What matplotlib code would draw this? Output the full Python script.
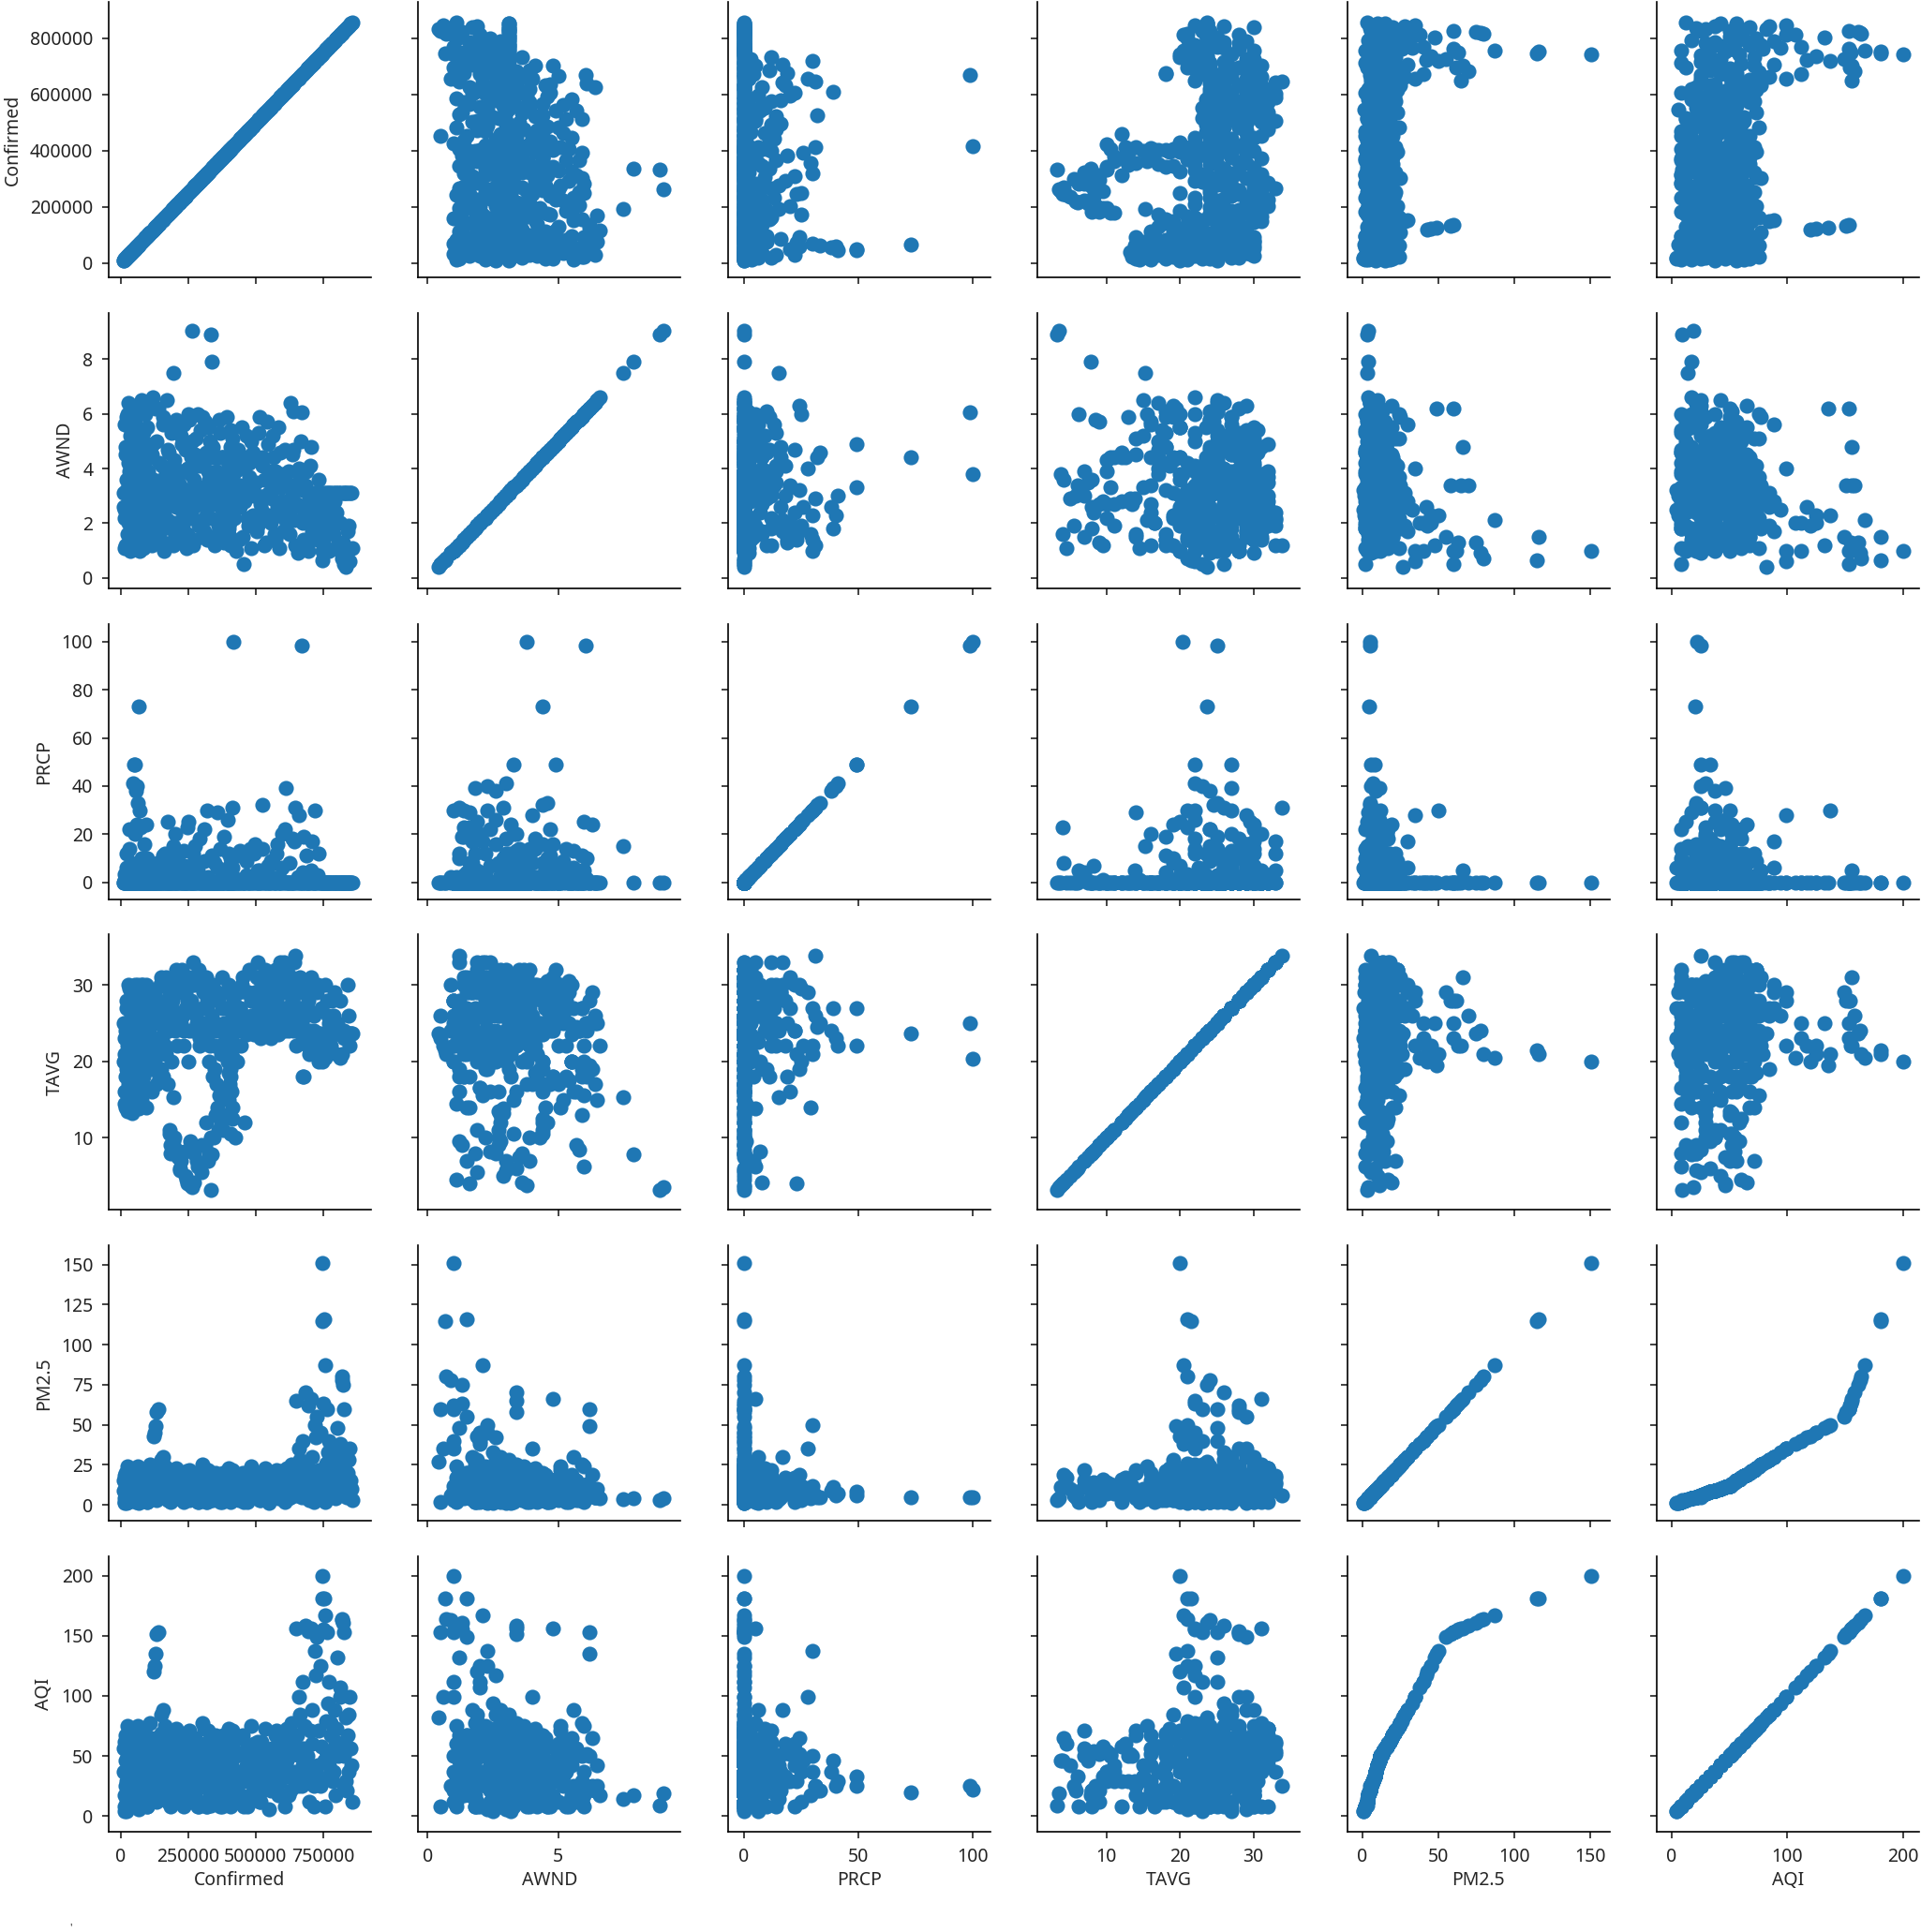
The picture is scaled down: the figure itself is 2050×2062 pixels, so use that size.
import matplotlib
matplotlib.use("Agg")
import matplotlib.pyplot as plt

confirmed = [
10500,12800,14200,16100,18000,19900,21700,23600,25400,27800,
29500,31200,33000,34800,36500,38200,40100,42000,44300,46500,
48000,50500,52000,53800,55500,57200,59000,60500,62500,64500,
67000,68500,70500,72000,74000,76000,78000,80000,82000,84000,
86000,88000,90000,92000,94000,96000,98000,100000,102000,104000,
106000,110000,114000,118000,120000,124000,128000,133000,138000,142000,
151000,154000,157000,160000,163000,166000,169000,172000,175000,178000,
181000,185000,188000,192000,195000,198000,202000,206000,210000,214000,
218000,222000,226000,230000,234000,238000,242000,246000,250000,254000,
258000,263000,265000,268000,272000,276000,280000,285000,290000,295000,
300000,304000,308000,312000,316000,320000,325000,330000,334000,336000,
340000,344000,348000,352000,356000,360000,364000,368000,372000,376000,
380000,384000,388000,392000,396000,400000,404000,408000,412000,418000,
400000,402000,405000,407000,410000,412000,414000,416000,420000,424000,
430000,436000,442000,448000,454000,460000,466000,472000,478000,484000,
490000,496000,502000,508000,514000,520000,526000,532000,538000,544000,
550000,556000,562000,568000,574000,580000,586000,592000,598000,604000,
610000,616000,622000,628000,634000,640000,646000,652000,658000,664000,
670000,672000,678000,684000,690000,696000,702000,708000,714000,720000,
726000,732000,738000,745000,748000,752000,756000,760000,764000,768000,
772000,778000,784000,790000,796000,802000,808000,814000,820000,826000,
818000,823000,828000,832000,836000,840000,844000,848000,852000,858000,
11500,15000,17000,20500,24000,26500,30000,33500,37500,41000,
43500,47000,51000,55000,58500,62000,65500,69000,73000,77000,
81000,85000,89000,93000,97000,101000,105000,109000,113000,117000,
121000,126000,131000,136000,141000,146000,150000,155000,161000,167000,
173000,177000,180000,183000,187000,191000,196000,200000,205000,212000,
220000,224000,228000,232000,236000,240000,244000,248000,252000,256000,
260000,266000,270000,274000,278000,283000,287000,292000,297000,302000,
306000,310000,315000,319000,323000,328000,332000,338000,342000,346000,
350000,354000,358000,362000,366000,370000,374000,378000,382000,390000,
394000,398000,401000,403000,406000,409000,413000,417000,426000,433000,
440000,446000,452000,458000,464000,470000,476000,482000,488000,494000,
500000,506000,512000,518000,524000,530000,536000,542000,548000,554000,
560000,566000,572000,578000,584000,590000,596000,602000,608000,614000,
620000,626000,632000,638000,644000,650000,656000,662000,668000,675000,
680000,686000,692000,698000,704000,710000,716000,722000,728000,734000,
740000,744000,750000,754000,758000,762000,766000,770000,776000,782000,
788000,794000,800000,806000,812000,816000,826000,834000,842000,855000,
15500,35500,61000,92500,130000,165000,200000,238000,276000,318000,
355000,395000,438000,475000,515000,555000,595000,635000,675000,715000,
]
awnd = [
3.1,5.6,2.2,4.5,1.2,3.6,5.9,2.7,1.6,4.2,
6.4,2.4,3.3,1.0,5.2,4.0,2.0,6.1,1.5,3.0,
3.3,4.9,1.8,5.7,2.6,3.8,6.3,1.2,4.6,2.9,
4.4,2.1,5.4,3.5,1.4,6.5,2.9,4.2,1.1,5.0,
2.3,4.8,1.7,6.0,3.2,2.0,5.5,3.9,1.3,6.4,
3.0,2.2,4.5,6.6,1.9,2.3,6.2,3.4,6.2,1.6,
2.5,4.1,5.9,1.0,3.7,2.8,6.5,1.9,4.7,3.2,
2.7,1.3,5.3,3.6,7.5,4.3,2.0,5.8,3.1,1.7,
3.4,1.5,4.9,2.4,5.6,2.9,1.1,4.0,6.0,2.2,
3.8,5.0,9.05,1.2,2.6,4.5,3.3,6.0,2.0,5.4,
1.9,4.2,3.0,5.7,2.3,1.4,3.6,5.0,8.9,7.9,
4.4,2.7,4.4,3.5,1.6,4.4,2.1,5.3,4.4,3.1,
4.4,2.4,3.0,5.9,4.4,1.8,3.8,4.4,2.9,3.8,
3.3,2.0,4.8,1.2,2.5,5.1,3.6,4.4,2.2,3.9,
4.4,1.4,3.4,5.5,0.5,2.8,4.4,1.9,3.5,5.0,
2.3,4.4,1.7,3.0,5.9,2.5,4.4,3.6,1.3,4.9,
3.1,2.0,5.2,1.6,3.9,2.6,1.1,4.6,3.3,2.2,
1.8,3.5,2.4,6.4,3.0,6.1,1.2,2.7,4.0,3.7,
6.05,2.0,1.4,3.4,2.6,1.0,4.1,1.7,3.0,2.3,
1.5,3.1,2.0,1.0,0.65,1.5,2.1,3.1,1.0,2.5,
3.1,1.8,3.1,2.8,3.1,1.2,3.1,2.0,0.9,3.1,
0.7,1.3,3.1,0.4,3.1,1.7,3.1,0.6,3.1,1.1,
2.6,1.1,4.8,3.2,6.0,2.0,3.9,1.4,5.4,2.9,
4.3,1.7,3.4,6.2,2.3,5.1,3.0,1.0,4.0,6.1,
2.8,5.3,3.7,1.5,4.6,2.5,6.3,3.4,1.2,4.9,
3.6,2.0,5.0,2.7,4.2,1.4,3.1,5.6,2.4,3.8,
2.1,4.6,3.3,1.8,5.5,2.9,1.2,4.0,2.6,3.5,
3.0,5.2,1.9,3.9,2.4,4.7,3.2,1.6,5.8,2.8,
4.4,2.2,3.6,1.4,5.1,3.0,1.9,4.1,2.7,5.9,
3.3,1.7,4.6,2.6,3.9,5.5,2.2,3.0,4.8,1.2,
2.8,4.4,3.7,1.9,5.8,3.2,2.5,4.4,1.3,3.5,
2.2,4.1,1.6,3.0,5.4,2.7,4.4,3.5,1.0,4.7,
2.6,4.0,1.5,3.2,5.2,2.2,3.7,1.1,4.6,3.0,
3.5,1.9,5.3,2.7,4.1,1.2,3.0,5.7,2.3,3.9,
2.9,4.4,1.4,3.3,5.5,2.4,3.8,1.7,4.7,2.8,
3.9,1.6,2.9,4.7,2.1,3.4,0.9,2.6,5.0,3.2,
2.2,3.9,1.2,2.9,4.8,1.9,3.1,2.6,1.4,3.6,
3.1,2.3,1.3,3.1,2.8,1.9,3.1,1.0,3.1,2.2,
1.6,3.1,2.4,3.1,1.0,3.1,0.5,3.1,1.9,3.1,
2.5,3.4,2.0,4.3,3.0,2.2,3.7,2.9,4.1,3.3,
3.9,2.6,3.1,4.2,2.1,3.6,2.8,4.5,3.3,1.8,
]
prcp = [
0,0,3.5,0,0,12,0,0,0.5,0,
0,22,0,0,0,8,0,1.5,0,41,
49,49,0,0,38,0,24,0,33,5,
73,0,0,6,23,0,0,2,0,0,
0,16,0,0,24,0,3,0,0,0,
0,0,0,0,0,0,0,0,0,0,
0,0,11,0,0,3,0,25,0,0,
0,0,5,0,15,0,20,0,0,8,
0,4,0,0,13,0,0,2,25,0,
0,0,0,12,0,1,0,5,0,0,
0,0,9,0,0,30,0,0,0,0,
0,0,8,0,29,0,0,14,0,0,
0,0,4,0,0,12,0,0,31,100,
0,0,0,10,0,0,6,0,0,0,
0,0,13,0,0,0,3,0,14,0,
0,16,0,0,5,0,32,0,0,7,
0,0,8,0,0,16,0,0,20,0,
39,0,0,0,18,0,31,0,28,0,
98.5,0,19,0,0,0,0,17,0,30,
0,12,0,0,0,0,0,0,0,0,
0,0,0,0,0,0,0,0,0,0,
0,0,0,0,0,0,0,0,0,0,
0,1,0,6,0,0,14,0,2,0,
0,0,20,0,40,2,0,30,0,10,
0,1,0,0,10,0,0,5,0,0,
2,0,0,8,0,0,0,6,0,0,
0,4,0,0,0,10,0,1,0,0,
0,3,0,0,7,0,0,23,0,1,
0,0,8,0,0,3,0,18,0,0,
0,22,0,0,2,0,0,11,0,0,
0,0,6,0,0,1,0,0,19,0,
4,0,0,7,0,0,0,2,0,11,
0,1,0,0,9,0,0,2,0,12,
0,5,0,0,14,0,3,0,0,9,
2,0,0,12,0,0,6,0,22,0,
0,8,0,0,17,0,2,0,0,4,
0,11,0,0,5,0,0,0,3,0,
0,0,0,0,0,0,0,0,0,0,
0,0,0,0,0,0,0,0,0,0,
0,7,0,0,0,12,0,0,15,0,
0,26,0,0,0,0,1,0,0,0,
]
tavg = [
25,16,21,14,18,28,19,13.5,22,30,
17,24,29.5,20,15,26,23,18,27,22,
22,27,30,16,24,20,19,28,25,13.8,
23.7,29,17.5,26,21,15,30,18,24,27,
19,28.5,25,22,30,16.5,20,29,23,26,
24,19,27,22,20,21,19.5,28,25,18,
31,23,18,26,28,21,25,29.5,17,24,
11,9,27,30,15.3,10,31,8.5,22,29,
6,7,32,26,24,5,4.5,28,20,31,
3.8,30,3.5,33,8,27,25,6.2,23,30.5,
5.5,29,24,9,31,27,8,22,3.2,7.8,
30,10,19,25,14,28,15.5,22,12,27,
11,16,23,13,20,30,17,10.5,26,20.3,
15,16.5,18,19,21,14,22.5,24,25.5,10,
20,24,27,30,26,12,23.5,29,25,28,
26,29,31,24,27,30,24.5,28,25.5,30,
28,31,26,24,32,29,25.5,30.5,27,33,
27,32,30,25,28,24,33.8,26,29,31,
25,23,18,26,22,28,24,30,23.7,21,
29,23.7,22,20,21.5,21,20.5,23.7,28,26,
23.7,22,23.7,29,23.7,25,23.7,20.5,24,23.7,
21,23.7,24,23.7,23.7,30,23.7,22,23.7,23.7,
20,14.5,24,27,15.5,21,25,18,29,13.2,
19,26,16,28,23,30,21,22,17,25,
30,18,24,14,27,20,29,23,16,26,
23,29,17,26,21,30,19,27,24,31,
26,30,10.5,8,20,28,9.5,24,32,7.5,
5.8,25,30,22,8.2,27,31,4,24,9.5,
28,24,4.2,30,26,7,32,22,9,27,
25,30,12,28,7,20,10,26,18,22,
13,17,29,11,24,21,31,16,25,27,
29,18.5,23,20,25,16,12.5,28,22,26,
27,22,31,25,29,24,32,26,28,23.5,
25,33,28,23,30,26,32,24.5,29,27,
30,25,31,28,23.5,33,26,29,24,32,
24,29,31,26,33,22,30,27,25,18,
24,29,27,21,31,23.7,26,22,30,20,
23.7,27,22,23.7,30,21,23.7,25,23.7,28,
26,23.7,21,23.7,28,23.7,23,23.7,26,23.7,
23,27,21,25,28,22,26,29,24,23,
24,22,29,25,27,23,30,28,26,24,
]
pm25 = [
9,4,18,6,20,7,3,12,14,2,
5,10,16,3,8,11,22,6,13,7,
6,8,4,15,9,2,19,11,5,7,
4.7,12,3,17,7,10,5,21,8,14,
6,9,15,4,13,2,11,17,7,5,
10,19,6,4,43,45,49,58,60,8,
21,8,12,5,24,10,6,3,16,9,
7,5,11,18,3.5,9,13,6,20,4,
8,12,15,3,6,10,17,5,9,22,
11,7,4,14,5,19,8,2,13,16,
6,10,23,3,9,12,5,17,3,4,
8,14,6,20,4,11,7,2,16,9,
10,5,13,7,3,18,9,12,6,5,
8,15,4,11,6,22,3,9,14,7,
5,13,9,19,2,7,10,16,4,12,
8,6,15,11,3,18,5,9,13,7,
10,14,6,8,20,5,12,7,16,9,
11,23,8,5,17,13,6,20,35,12,
5,40,15,70,10,62,22,30,9,50,
55,8,45,151,115,116,87,14,60,33,
10,25,7,30,18,48,13,38,78,6,
80,75,12,27,5,20,9,35,15,3,
15,2,11,1,24,8,5,17,10,13,
3,19,7,12,6,24,1.5,9,16,5,
4,14,8,20,2,11,6,25,13,9,
7,15,3,11,18,5,28,30,9,13,
20,6,13,2,10,16,8,4,23,11,
5,18,9,2,14,7,21,11,3,16,
12,6,19,4,10,15,2,8,13,25,
7,17,2,11,22,5,9,14,3,8,
12,4,18,9,6,15,2,20,7,11,
9,23,6,13,2,10,17,4,12,8,
13,4,20,8,15,2,10,24,6,17,
5,18,9,3,12,7,23,14,1.5,10,
15,6,10,22,4,17,8,13,2,11,
4,19,25,9,13,65,6,28,15,10,
24,8,12,3,66,17,6,42,10,22,
6,16,63,11,2,26,8,40,20,14,
9,4,23,12,35,17,60,7,28,10,
1,6,9,3,19,7,12,5,10,2,
7,11,3,16,9,5,21,8,13,2,
]
aqi = [
37,17,62,25,67,29,12,50,54,8,
21,42,58,12,33,46,71,25,52,29,
25,33,17,56,37,8,65,46,21,29,
20,50,12,60,29,42,21,69,33,54,
25,37,56,17,52,8,46,60,29,21,
42,65,25,17,120,125,135,151,153,33,
69,33,50,21,75,42,25,12,58,37,
29,21,46,62,14,37,52,25,67,17,
33,50,56,12,25,42,60,21,37,71,
46,29,19,54,21,65,33,8,52,58,
25,42,73,12,37,50,21,60,9,17,
33,54,25,67,17,46,29,8,58,37,
42,21,52,29,12,62,37,50,25,22,
33,56,17,46,25,71,12,37,54,29,
21,52,37,65,8,29,42,58,17,50,
33,25,56,46,12,62,21,37,52,29,
42,54,25,33,67,21,50,29,58,37,
46,73,33,21,60,52,25,67,99,50,
25,112,56,158,42,154,71,88,37,137,
149,33,125,200,181,181,167,54,153,94,
42,77,29,88,62,132,52,107,163,25,
164,161,50,82,21,67,37,99,56,12,
56,8,46,4,75,33,21,60,42,52,
12,65,29,50,25,75,6,37,58,21,
17,54,33,67,8,46,25,77,52,37,
29,56,12,46,62,21,84,88,37,52,
67,25,52,8,42,58,33,17,73,46,
21,62,37,8,54,29,69,46,12,58,
50,25,65,17,42,56,8,33,52,77,
29,60,8,46,71,21,37,54,12,33,
50,17,62,37,25,56,8,67,29,46,
37,73,25,52,8,42,60,17,50,33,
52,17,67,33,56,8,42,75,25,60,
21,62,37,12,50,29,73,54,6,42,
56,25,42,71,17,60,33,52,8,46,
17,65,77,37,52,156,25,84,56,42,
75,33,50,12,156,60,25,117,42,71,
25,58,155,46,8,79,33,112,67,54,
37,17,73,50,99,60,153,29,84,42,
4,25,37,12,65,29,50,21,42,8,
29,46,12,58,37,21,69,33,52,8,
]

names = ["Confirmed", "AWND", "PRCP", "TAVG", "PM2.5", "AQI"]
series = [confirmed, awnd, prcp, tavg, pm25, aqi]
xlims = [(-45000, 927000), (-0.36, 9.7), (-7, 107.5), (0.6, 36.3), (-10, 163), (-13, 214)]
ylims = [(-50000, 930000), (-0.38, 9.7), (-7, 107.5), (0.55, 36.6), (-10, 162), (-13, 216)]
xticks = [[0, 250000, 500000, 750000], [0, 5], [0, 50, 100], [10, 20, 30], [0, 50, 100, 150], [0, 100, 200]]
yticks = [[0, 200000, 400000, 600000, 800000], [0, 2, 4, 6, 8], [0, 20, 40, 60, 80, 100],
          [10, 20, 30], [0, 25, 50, 75, 100, 125, 150], [0, 50, 100, 150, 200]]

plt.rcParams['font.family'] = ['Noto Sans', 'DejaVu Sans']
plt.rcParams['font.size'] = 14
W, H = 2050, 2062
fig = plt.figure(figsize=(W / 100, H / 100), dpi=100)
ink = '#262626'
for r in range(6):
    for c in range(6):
        left = 116 + c * 330.4
        top = 2 + r * 331.8
        ax = fig.add_axes([left / W, 1 - (top + 294) / H, 280 / W, 294 / H])
        ax.scatter(series[c], series[r], s=135, color='#1f77b4', linewidths=0)
        ax.set_xlim(*xlims[c])
        ax.set_ylim(*ylims[r])
        ax.set_xticks(xticks[c])
        ax.set_yticks(yticks[r])
        ax.spines['top'].set_visible(False)
        ax.spines['right'].set_visible(False)
        for s in ('left', 'bottom'):
            ax.spines[s].set_linewidth(1.2)
        ax.tick_params(length=5, width=1.2, labelsize=14, pad=7,
                       labelleft=c == 0, labelbottom=r == 5, colors='#222222')
        if c == 0:
            ax.set_ylabel(names[r], fontsize=14, color=ink, labelpad=6)
        if r == 5:
            ax.set_xlabel(names[c], fontsize=14, color=ink, labelpad=4)
fig.text(76 / W, 1 - 2058 / H, "'", fontsize=8, color=ink, ha='center', va='center')
fig.savefig('out.png', dpi=100)
